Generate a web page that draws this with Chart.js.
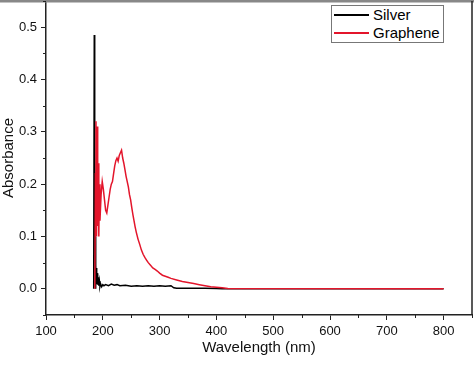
<!DOCTYPE html>
<html>
<head>
<meta charset="utf-8">
<script src="https://cdn.jsdelivr.net/npm/chart.js@4.4.1/dist/chart.umd.min.js"></script>
<style>
  body { margin: 0; background: #fff; }
  #wrap { position: relative; width: 474px; height: 366px; }
  #legendBox {
    position: absolute; left: 331px; top: 5px; width: 111px; height: 36px;
    border: 1px solid #777; background: #fff;
    font-family: "Liberation Sans", Arial, sans-serif; font-size: 15px; color: #000;
  }
  .row { position: absolute; left: 0; height: 18px; line-height: 18px; }
  .row span.ln { position: absolute; left: 2px; top: 8px; width: 35px; height: 2px; }
  .row span.tx { position: absolute; left: 41px; top: 0; white-space: nowrap; }
</style>
</head>
<body>
<div id="wrap">
  <canvas id="chart1" width="474" height="366"></canvas>
  <div id="legendBox">
    <div class="row" style="top:0px"><span class="ln" style="background:#000"></span><span class="tx">Silver</span></div>
    <div class="row" style="top:18px"><span class="ln" style="background:#e3152b"></span><span class="tx">Graphene</span></div>
  </div>
</div>
<script>
// axis ticks
var xTicks = [100, 200, 300, 400, 500, 600, 700, 800];
var xMinorTicks = [150, 250, 350, 450, 550, 650, 750, 850];
var yTicks = [0.0, 0.1, 0.2, 0.3, 0.4, 0.5];
var yMinorTicks = [-0.05, 0.05, 0.15, 0.25, 0.35, 0.45, 0.55];

// Silver spectrum
var silverWl = [184, 185, 185.5, 186, 186.5, 187, 188, 188.5, 189, 189.5, 190, 191, 192, 193, 194, 195, 196, 198,
    200, 202, 205, 210, 215, 220, 225, 230, 240, 250, 260, 270, 280, 290, 300, 310, 320, 325, 330, 340, 360, 380, 400, 410, 420, 800];
var silverAbs = [0, 0.485, 0.32, 0.25, 0.1, 0.0, 0.045, 0.01, 0.04, 0.012, 0.03, 0.008, 0.022, 0.006, 0.015, 0.005, 0.01, 0.004,
    0.008, 0.006, 0.008, 0.006, 0.009, 0.007, 0.008, 0.006, 0.007, 0.005, 0.006, 0.005, 0.006, 0.005, 0.006, 0.005, 0.006, 0.002, 0.001, 0.001, 0.001, 0.001, 0.0005, 0, 0, 0];

// Graphene spectrum
var grapheneWl = [186, 187, 188, 189, 190, 191, 192, 193, 194, 195, 197, 199, 201, 203, 205, 207, 209, 211, 213, 215, 217, 219,
    221, 223, 225, 227, 229, 231, 233, 235, 237, 239, 241, 243, 245, 247, 249, 251, 253, 255, 257, 259, 262, 265, 268, 271, 274, 277, 280,
    284, 288, 292, 296, 300, 305, 310, 315, 320, 330, 340, 350, 360, 370, 380, 390, 400, 410, 420, 800];
var grapheneAbs = [0.0, 0.22, 0.32, 0.1, 0.31, 0.12, 0.24, 0.1, 0.2, 0.13, 0.18, 0.205, 0.19, 0.17, 0.15, 0.145, 0.16, 0.175, 0.19, 0.2, 0.205, 0.22,
    0.235, 0.245, 0.25, 0.244, 0.255, 0.26, 0.265, 0.25, 0.24, 0.228, 0.215, 0.205, 0.195, 0.18, 0.17, 0.155, 0.142, 0.13, 0.118, 0.108, 0.095, 0.085, 0.074, 0.066, 0.06, 0.055, 0.05,
    0.045, 0.04, 0.037, 0.034, 0.03, 0.026, 0.024, 0.022, 0.02, 0.017, 0.014, 0.012, 0.01, 0.008, 0.006, 0.004, 0.003, 0.002, 0.0005, 0];

function toPoints(xs, ys) {
    return xs.map(function (x, i) { return { x: x, y: ys[i] }; });
}

// frame on top/right plus short minor ticks
var framePlugin = {
    id: 'frame',
    afterDraw: function (chart) {
        var ctx = chart.ctx, a = chart.chartArea;
        var xs = chart.scales.x, ys = chart.scales.y;
        ctx.save();
        ctx.strokeStyle = '#888';
        ctx.lineWidth = 3;
        ctx.beginPath(); ctx.moveTo(0, 1); ctx.lineTo(474, 1); ctx.stroke();
        ctx.strokeStyle = '#222';
        ctx.lineWidth = 1.5;
        ctx.beginPath(); ctx.moveTo(a.right, a.top); ctx.lineTo(a.right, a.bottom); ctx.stroke();
        ctx.lineWidth = 1;
        ctx.beginPath();
        xMinorTicks.forEach(function (v) {
            var px = Math.round(xs.getPixelForValue(v)) + 0.5;
            ctx.moveTo(px, a.bottom); ctx.lineTo(px, a.bottom + 3);
        });
        yMinorTicks.forEach(function (v) {
            var py = Math.round(ys.getPixelForValue(v)) + 0.5;
            ctx.moveTo(a.left, py); ctx.lineTo(a.left - 3, py);
        });
        ctx.stroke();
        ctx.restore();
    }
};

var font = "'Liberation Sans', Arial, sans-serif";

new Chart(document.getElementById('chart1'), {
    type: 'line',
    data: {
        datasets: [
            { label: 'Graphene', data: toPoints(grapheneWl, grapheneAbs), borderColor: '#e3152b', borderWidth: 1.5, pointRadius: 0, tension: 0 },
            { label: 'Silver', data: toPoints(silverWl, silverAbs), borderColor: '#000', borderWidth: 1.5, pointRadius: 0, tension: 0 }
        ]
    },
    options: {
        responsive: false,
        animation: false,
        layout: { padding: { top: 1, right: 2, left: 0, bottom: 0 } },
        plugins: { legend: { display: false }, tooltip: { enabled: false } },
        scales: {
            x: {
                type: 'linear', min: 100, max: 850,
                afterBuildTicks: function (s) { s.ticks = xTicks.map(function (v) { return { value: v }; }); },
                afterFit: function (s) { s.height = 51; s.paddingLeft = 0; s.paddingRight = 0; },
                grid: { drawOnChartArea: false, drawTicks: true, tickLength: 5, tickColor: '#222' },
                border: { display: true, color: '#222', width: 1.5 },
                ticks: { color: '#111', font: { family: font, size: 13 }, padding: 4, maxRotation: 0,
                    callback: function (v) { return v; } },
                title: { display: true, text: 'Wavelength (nm)', color: '#111', font: { family: font, size: 15 }, padding: { top: 0, bottom: 9 } }
            },
            y: {
                type: 'linear', min: -0.05, max: 0.55,
                afterBuildTicks: function (s) { s.ticks = yTicks.map(function (v) { return { value: v }; }); },
                afterFit: function (s) { s.width = 46; s.paddingTop = 0; s.paddingBottom = 0; },
                grid: { drawOnChartArea: false, drawTicks: true, tickLength: 5, tickColor: '#222' },
                border: { display: true, color: '#222', width: 1.5 },
                ticks: { color: '#111', font: { family: font, size: 13 }, padding: 4,
                    callback: function (v) { return Number(v).toFixed(1); } },
                title: { display: true, text: 'Absorbance', color: '#111', font: { family: font, size: 15 }, padding: { top: 0, bottom: 0 } }
            }
        }
    },
    plugins: [framePlugin]
});
</script>
</body>
</html>
